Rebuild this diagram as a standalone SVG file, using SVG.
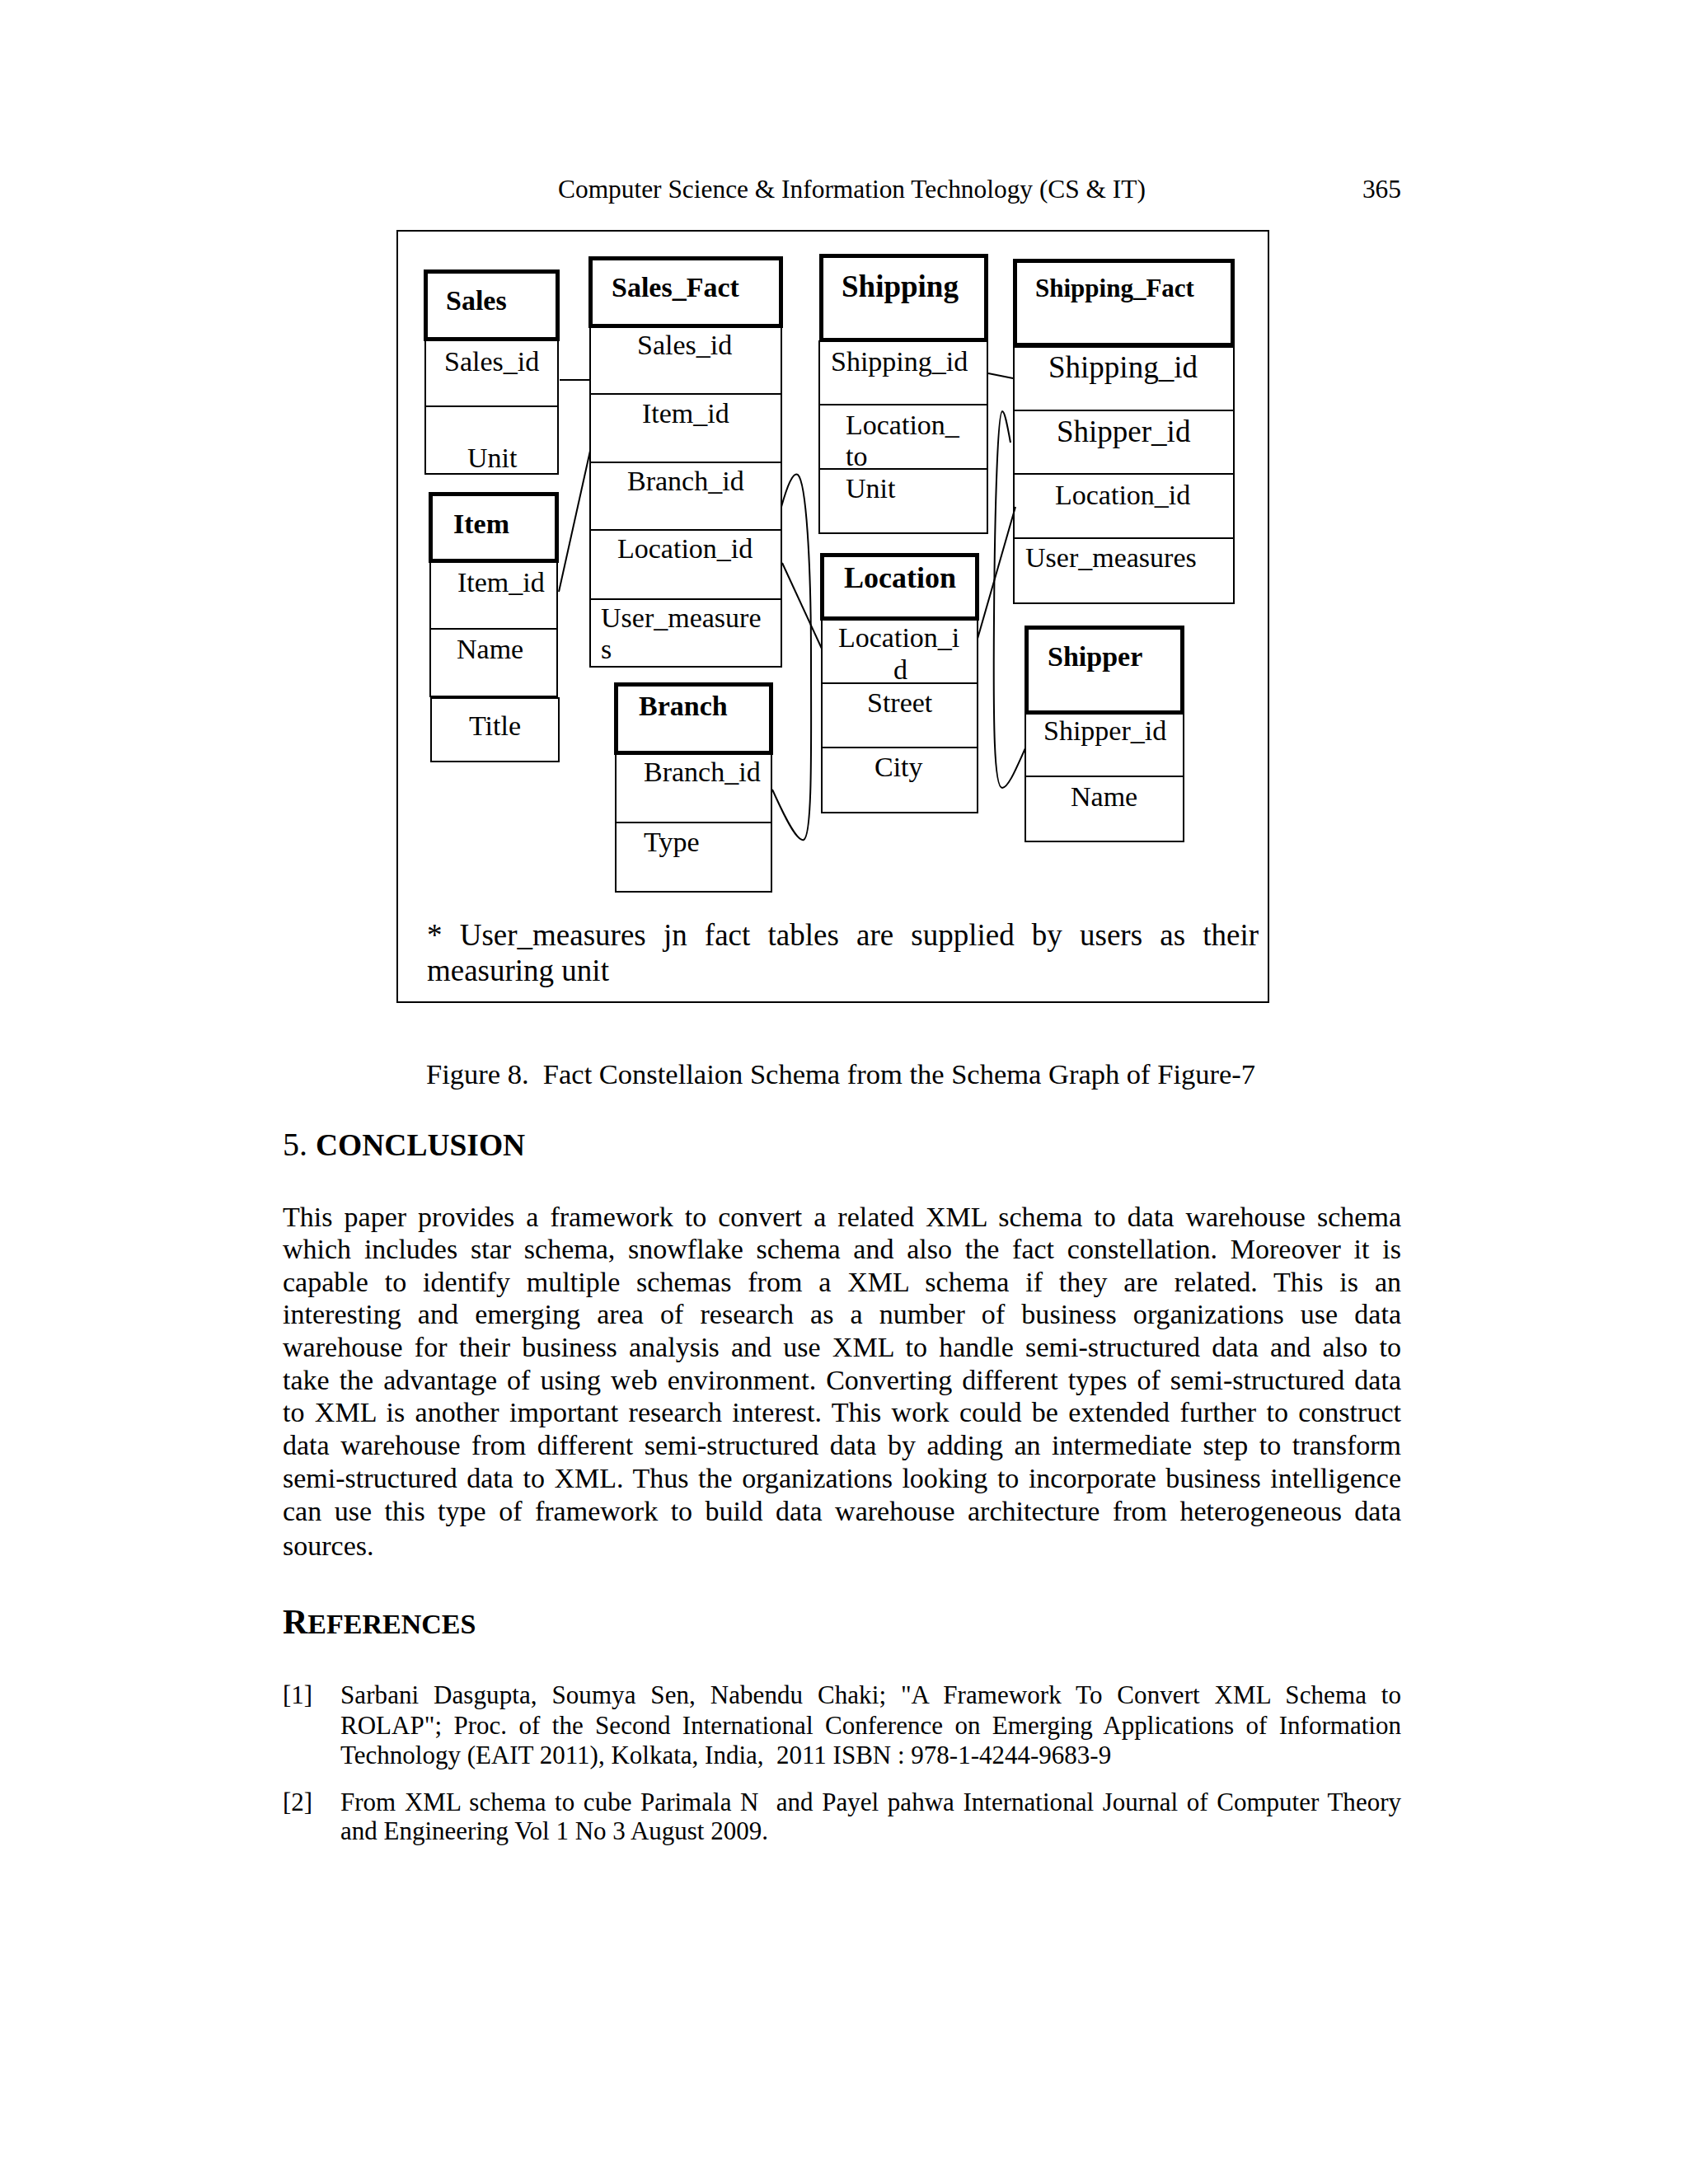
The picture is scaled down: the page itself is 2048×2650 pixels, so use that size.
<svg xmlns="http://www.w3.org/2000/svg" width="2048" height="2650" viewBox="0 0 2048 2650">
<style>
text{font-family:"Liberation Serif","Times New Roman",serif;fill:#000}
.n{font-size:34px}
.b{font-weight:bold;font-size:34px}
.hdr{fill:#fff;stroke:#000;stroke-width:5}
.row{fill:#fff;stroke:#000;stroke-width:2}
.conn{fill:none;stroke:#000;stroke-width:2}
.body{font-size:34px}
.ref{font-size:31px}
</style>
<rect width="2048" height="2650" fill="#fff"/>
<text x="677" y="240" style="font-size:31.4px">Computer Science &amp; Information Technology (CS &amp; IT)</text>
<text x="1700" y="240" style="font-size:31.4px" text-anchor="end">365</text>

<rect x="482" y="280" width="1057" height="936" fill="#fff" stroke="#000" stroke-width="2"/>

<g id="sales">
<rect class="hdr" x="516.5" y="329.5" width="160" height="82"/>
<rect class="row" x="516" y="413" width="161" height="80"/>
<rect class="row" x="516" y="493" width="161" height="82"/>
<text class="b" x="541" y="376">Sales</text>
<text class="n" x="539" y="450">Sales_id</text>
<text class="n" x="567" y="567">Unit</text>
</g>

<g id="sales_fact">
<rect class="hdr" x="716.5" y="313.5" width="231" height="82"/>
<rect class="row" x="716" y="397" width="232" height="81"/>
<rect class="row" x="716" y="478" width="232" height="83"/>
<rect class="row" x="716" y="561" width="232" height="82"/>
<rect class="row" x="716" y="643" width="232" height="84"/>
<rect class="row" x="716" y="727" width="232" height="82"/>
<text class="b" x="742" y="360">Sales_Fact</text>
<text class="n" x="773" y="430">Sales_id</text>
<text class="n" x="779" y="513">Item_id</text>
<text class="n" x="761" y="595">Branch_id</text>
<text class="n" x="749" y="677">Location_id</text>
<text class="n" x="729" y="761">User_measure</text>
<text class="n" x="729" y="799">s</text>
</g>

<g id="item">
<rect class="hdr" x="522.5" y="599.5" width="153" height="81"/>
<rect class="row" x="522" y="682" width="154" height="81"/>
<rect class="row" x="522" y="763" width="154" height="82"/>
<rect class="row" x="523" y="847" width="155" height="77"/>
<text class="b" x="550" y="647">Item</text>
<text class="n" x="555" y="718">Item_id</text>
<text class="n" x="554" y="799">Name</text>
<text class="n" x="569" y="892">Title</text>
</g>

<g id="branch">
<rect class="hdr" x="747.5" y="830.5" width="188" height="83"/>
<rect class="row" x="747" y="915" width="189" height="83"/>
<rect class="row" x="747" y="998" width="189" height="84"/>
<text class="b" x="775" y="868">Branch</text>
<text class="n" x="781" y="948">Branch_id</text>
<text class="n" x="781" y="1033">Type</text>
</g>

<g id="shipping">
<rect class="hdr" x="996.5" y="310.5" width="200" height="102"/>
<rect class="row" x="994" y="414" width="204" height="77"/>
<rect class="row" x="994" y="491" width="204" height="78"/>
<rect class="row" x="994" y="569" width="204" height="78"/>
<text class="b" x="1021" y="360" style="font-size:37px">Shipping</text>
<text class="n" x="1008" y="450">Shipping_id</text>
<text class="n" x="1026" y="527">Location_</text>
<text class="n" x="1026" y="565">to</text>
<text class="n" x="1026" y="604">Unit</text>
</g>

<g id="shipping_fact">
<rect class="hdr" x="1231.5" y="316.5" width="264" height="102"/>
<rect class="row" x="1230" y="421" width="267" height="77"/>
<rect class="row" x="1230" y="498" width="267" height="77"/>
<rect class="row" x="1230" y="575" width="267" height="78"/>
<rect class="row" x="1230" y="653" width="267" height="79"/>
<text class="b" x="1256" y="360" style="font-size:31px">Shipping_Fact</text>
<text class="n" x="1272" y="458" style="font-size:37px">Shipping_id</text>
<text class="n" x="1282" y="536" style="font-size:37px">Shipper_id</text>
<text class="n" x="1280" y="612">Location_id</text>
<text class="n" x="1244" y="688">User_measures</text>
</g>

<g id="location">
<rect class="hdr" x="997.5" y="673.5" width="188" height="77"/>
<rect class="row" x="997" y="752" width="189" height="77"/>
<rect class="row" x="997" y="829" width="189" height="78"/>
<rect class="row" x="997" y="907" width="189" height="79"/>
<text class="b" x="1024" y="713" style="font-size:36px">Location</text>
<text class="n" x="1017" y="785">Location_i</text>
<text class="n" x="1084" y="824">d</text>
<text class="n" x="1052" y="864">Street</text>
<text class="n" x="1061" y="942">City</text>
</g>

<g id="shipper">
<rect class="hdr" x="1245.5" y="761.5" width="189" height="103"/>
<rect class="row" x="1244" y="866" width="192" height="76"/>
<rect class="row" x="1244" y="942" width="192" height="79"/>
<text class="b" x="1271" y="808">Shipper</text>
<text class="n" x="1266" y="898">Shipper_id</text>
<text class="n" x="1299" y="978">Name</text>
</g>

<g id="connectors">
<path class="conn" d="M679 461 L716 461"/>
<path class="conn" d="M678 718 L716 547"/>
<path class="conn" d="M948 615 C955 590 962 572 968 576 C978 585 984 680 984 800 C984 900 986 1015 975 1019 C965 1022 945 975 937 958"/>
<path class="conn" d="M949 683 L997 787"/>
<path class="conn" d="M1199 453 L1229 459"/>
<path class="conn" d="M1226 537 C1222 515 1219 499 1216 499 C1211 500 1207 600 1206 750 C1205 880 1206 956 1216 956 C1224 956 1236 925 1244 908"/>
<path class="conn" d="M1186 775 L1232 615"/>
</g>

<text x="518" y="1147" style="font-size:37px;word-spacing:11.9px" textLength="1009" lengthAdjust="spacing">* User_measures jn fact tables are supplied by users as their</text>
<text x="518" y="1190" style="font-size:37px">measuring unit</text>

<text x="517" y="1315" style="font-size:34.5px" xml:space="preserve">Figure 8.  Fact Constellaion Schema from the Schema Graph of Figure-7</text>

<text x="343" y="1402"><tspan style="font-size:40px">5. </tspan><tspan style="font-size:37.5px;font-weight:bold">CONCLUSION</tspan></text>

<g>
<text class="body" x="343" y="1488" style="word-spacing:5.5px" textLength="1357" lengthAdjust="spacing">This paper provides a framework to convert a related XML schema to data warehouse schema</text>
<text class="body" x="343" y="1527" style="word-spacing:7.3px" textLength="1357" lengthAdjust="spacing">which includes star schema, snowflake schema and also the fact constellation. Moreover it is</text>
<text class="body" x="343" y="1567" style="word-spacing:11.3px" textLength="1357" lengthAdjust="spacing">capable to identify multiple schemas from a XML schema if they are related. This is an</text>
<text class="body" x="343" y="1606" style="word-spacing:11.6px" textLength="1357" lengthAdjust="spacing">interesting and emerging area of research as a number of business organizations use data</text>
<text class="body" x="343" y="1646" style="word-spacing:5.7px" textLength="1357" lengthAdjust="spacing">warehouse for their business analysis and use XML to handle semi-structured data and also to</text>
<text class="body" x="343" y="1686" style="word-spacing:3.5px" textLength="1357" lengthAdjust="spacing">take the advantage of using web environment. Converting different types of semi-structured data</text>
<text class="body" x="343" y="1725" style="word-spacing:3.8px" textLength="1357" lengthAdjust="spacing">to XML is another important research interest. This work could be extended further to construct</text>
<text class="body" x="343" y="1765" style="word-spacing:5px" textLength="1357" lengthAdjust="spacing">data warehouse from different semi-structured data by adding an intermediate step to transform</text>
<text class="body" x="343" y="1805" style="word-spacing:3px" textLength="1357" lengthAdjust="spacing">semi-structured data to XML. Thus the organizations looking to incorporate business intelligence</text>
<text class="body" x="343" y="1845" style="word-spacing:7px" textLength="1357" lengthAdjust="spacing">can use this type of framework to build data warehouse architecture from heterogeneous data</text>
<text class="body" x="343" y="1887">sources.</text>
</g>

<text x="343" y="1982" style="font-weight:bold"><tspan style="font-size:42px">R</tspan><tspan style="font-size:34px">EFERENCES</tspan></text>

<g>
<text class="ref" x="343" y="2067">[1]</text>
<text class="ref" x="413" y="2067" style="word-spacing:10px" textLength="1287" lengthAdjust="spacing">Sarbani Dasgupta, Soumya Sen, Nabendu Chaki; "A Framework To Convert XML Schema to</text>
<text class="ref" x="413" y="2104" style="word-spacing:6.6px" textLength="1287" lengthAdjust="spacing">ROLAP"; Proc. of the Second International Conference on Emerging Applications of Information</text>
<text class="ref" x="413" y="2140" xml:space="preserve">Technology (EAIT 2011), Kolkata, India,  2011 ISBN : 978-1-4244-9683-9</text>
<text class="ref" x="343" y="2197">[2]</text>
<text class="ref" x="413" y="2197" style="word-spacing:2.9px" textLength="1287" lengthAdjust="spacing" xml:space="preserve">From XML schema to cube Parimala N  and Payel pahwa International Journal of Computer Theory</text>
<text class="ref" x="413" y="2232">and Engineering Vol 1 No 3 August 2009.</text>
</g>
</svg>
